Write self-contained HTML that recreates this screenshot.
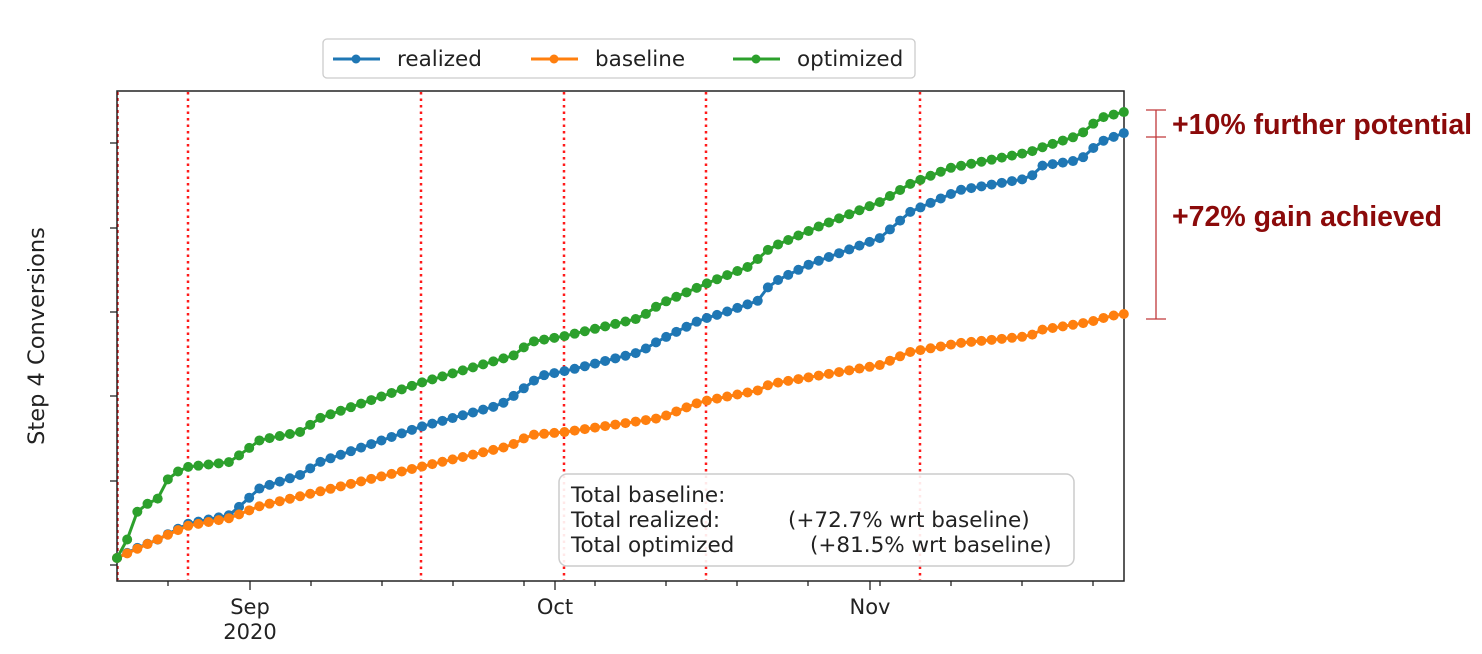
<!DOCTYPE html>
<html><head><meta charset="utf-8"><style>
html,body{margin:0;padding:0;background:#fff;width:1482px;height:654px;overflow:hidden}
svg{display:block}
text{font-family:"DejaVu Sans","Liberation Sans",sans-serif}
</style></head><body>
<svg id="s" width="1482" height="654" xmlns="http://www.w3.org/2000/svg">
<rect x="117" y="91" width="1007" height="490" fill="#fff" stroke="#222" stroke-width="1.5"/>
<g id="vl" stroke="#ff1a1a" stroke-width="2.5" stroke-dasharray="2.5,4">
<line x1="188" y1="92" x2="188" y2="580"/><line x1="421" y1="92" x2="421" y2="580"/>
<line x1="564" y1="92" x2="564" y2="580"/><line x1="706" y1="92" x2="706" y2="580"/>
<line x1="920" y1="92" x2="920" y2="580"/>
</g>
<line x1="118" y1="92" x2="118" y2="580" stroke="#b00" stroke-width="1.2" stroke-dasharray="3,3"/>
<g id="series"></g>
<g stroke="#222" stroke-width="1.3" id="ticks">
<line x1="110" y1="143" x2="117" y2="143"/><line x1="110" y1="228" x2="117" y2="228"/>
<line x1="110" y1="312" x2="117" y2="312"/><line x1="110" y1="396" x2="117" y2="396"/>
<line x1="110" y1="481" x2="117" y2="481"/><line x1="110" y1="565" x2="117" y2="565"/>
<line x1="250" y1="581" x2="250" y2="590"/><line x1="555" y1="581" x2="555" y2="590"/><line x1="870" y1="581" x2="870" y2="590"/>
</g>
<text x="250" y="614" font-size="21" text-anchor="middle" fill="#222">Sep</text>
<text x="250" y="639" font-size="21" text-anchor="middle" fill="#222">2020</text>
<text x="555" y="614" font-size="21" text-anchor="middle" fill="#222">Oct</text>
<text x="870" y="614" font-size="21" text-anchor="middle" fill="#222">Nov</text>
<text transform="translate(44,336) rotate(-90)" font-size="22.5" text-anchor="middle" fill="#222">Step 4 Conversions</text>
<rect x="323" y="39" width="592" height="39" rx="4" fill="#fff" stroke="#ccc" stroke-width="1.3"/>
<g stroke-width="3"><line x1="333" y1="59" x2="380" y2="59" stroke="#1f77b4"/><line x1="531" y1="59" x2="578" y2="59" stroke="#ff7f0e"/><line x1="733" y1="59" x2="780" y2="59" stroke="#2ca02c"/></g>
<circle cx="356" cy="59" r="4.5" fill="#1f77b4"/><circle cx="554" cy="59" r="4.5" fill="#ff7f0e"/><circle cx="756" cy="59" r="4.5" fill="#2ca02c"/>
<text x="397" y="66" font-size="21.5" fill="#222">realized</text>
<text x="595" y="66" font-size="21.5" fill="#222">baseline</text>
<text x="797" y="66" font-size="21.5" fill="#222">optimized</text>
<rect x="559" y="474" width="515" height="92" rx="8" fill="#fff" fill-opacity="0.9" stroke="#ccc" stroke-width="1.5"/>
<text font-size="21.5" fill="#222"><tspan x="571" y="502">Total baseline:</tspan><tspan x="571" y="527">Total realized:</tspan><tspan x="788" y="527">(+72.7% wrt baseline)</tspan><tspan x="571" y="552">Total optimized</tspan><tspan x="810" y="552">(+81.5% wrt baseline)</tspan></text>
<g stroke="#c0393b" stroke-width="1.3">
<line x1="1156" y1="110" x2="1156" y2="319"/>
<line x1="1146" y1="110" x2="1166" y2="110"/><line x1="1146" y1="137" x2="1166" y2="137"/><line x1="1146" y1="319" x2="1166" y2="319"/>
</g>
<text x="1172" y="134" font-size="28.5" font-weight="bold" fill="#8b0a0a" style='font-family:"Liberation Sans",sans-serif'>+10% further potential</text>
<text x="1172" y="226" font-size="28.5" font-weight="bold" fill="#8b0a0a" style='font-family:"Liberation Sans",sans-serif'>+72% gain achieved</text>
</svg>
<script>
var NS="http://www.w3.org/2000/svg";
var t=document.getElementById("ticks");
[168,311,382,453,524,595,666,737,808,880,951,1022,1093].forEach(function(x){var l=document.createElementNS(NS,"line");l.setAttribute("x1",x);l.setAttribute("x2",x);l.setAttribute("y1",581);l.setAttribute("y2",586);t.appendChild(l);});
var G=[[117,558],[127,540],[137,512],[147,504],[157,500],[167,480],[177,472],[187,467],[230,462],[260,440],[300,432],[320,418],[420,383],[515,355],[530,342],[565,336],[640,318],[660,304],[710,282],[750,266],[770,248],[820,226],[880,202],[910,184],[950,168],[1030,152],[1040,148],[1080,135],[1100,118],[1124,112]];
var B=[[117,558],[137,548],[157,540],[187,524],[230,515],[260,488],[300,475],[320,462],[420,427],[500,405],[515,395],[540,376],[570,370],[640,352],[660,340],[700,320],[720,314],[760,300],[770,284],[810,264],[880,238],[910,212],[960,190],[1030,178],[1040,166],[1080,160],[1100,142],[1124,133]];
var O=[[117,558],[187,526],[230,518],[260,506],[420,467],[510,446],[530,435],[565,432],[660,418],[700,402],[760,390],[770,384],[880,365],[910,352],[960,343],[1030,336],[1040,330],[1090,322],[1110,316],[1124,314]];
function interp(k,x){for(var i=0;i<k.length-1;i++){if(x<=k[i+1][0]){var a=k[i],b=k[i+1];return a[1]+(b[1]-a[1])*(x-a[0])/(b[0]-a[0]);}}return k[k.length-1][1];}
var g=document.getElementById("series");
function draw(k,c){var pts=[];for(var x=117;x<=1125;x+=10.17){pts.push([x,interp(k,Math.min(x,1124))]);}
var p=document.createElementNS(NS,"polyline");p.setAttribute("points",pts.map(function(q){return q[0].toFixed(1)+","+q[1].toFixed(1)}).join(" "));p.setAttribute("fill","none");p.setAttribute("stroke",c);p.setAttribute("stroke-width","3");g.appendChild(p);
pts.forEach(function(q){var ci=document.createElementNS(NS,"circle");ci.setAttribute("cx",q[0]);ci.setAttribute("cy",q[1]);ci.setAttribute("r",5);ci.setAttribute("fill",c);g.appendChild(ci);});}
draw(B,"#1f77b4");draw(O,"#ff7f0e");draw(G,"#2ca02c");
</script>
</body></html>
